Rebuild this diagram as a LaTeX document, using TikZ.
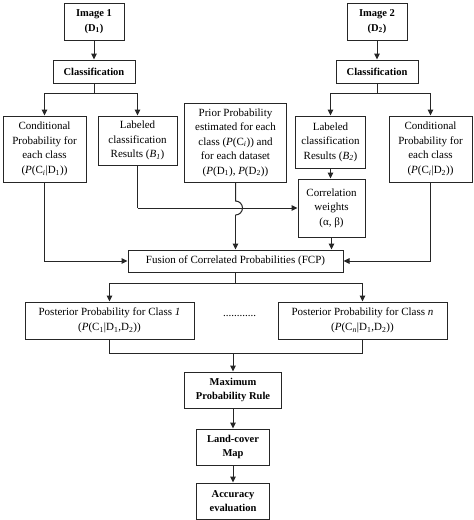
\documentclass[tikz,border=0pt]{standalone}
\usepackage{fontspec}
\setmainfont{Liberation Serif}
\usetikzlibrary{arrows.meta}
\begin{document}
\begin{tikzpicture}[x=1pt,y=-1pt,
  box/.style={draw=black!85, line width=1pt, inner sep=0pt, align=center,
    font=\fontsize{11}{14.5}\selectfont},
  bbox/.style={box, font=\fontsize{10.5}{14.5}\selectfont\bfseries},
  line/.style={draw=black!85, line width=1pt},
  arr/.style={line, -{Triangle[length=6pt,width=5.5pt]}}]
\useasboundingbox[fill=white] (0,0) rectangle (474,520);
% top row
\node[bbox, minimum width=60pt, minimum height=37pt] (img1) at (94,21.5) {Image 1\\(D\textsubscript{1})};
\node[bbox, minimum width=82pt, minimum height=23pt] (cls1) at (94,71.5) {Classification};
\node[bbox, minimum width=60pt, minimum height=37pt] (img2) at (377,21.5) {Image 2\\(D\textsubscript{2})};
\node[bbox, minimum width=82pt, minimum height=23pt] (cls2) at (377,71.5) {Classification};
% second row
\node[box, minimum width=83pt, minimum height=66pt] (cond1) at (44.5,149) {Conditional\\Probability for\\each class\\(\textit{P}(C\textsubscript{\textit{i}}|D\textsubscript{1}))};
\node[box, minimum width=79pt, minimum height=49pt] (lab1) at (137.5,140.5) {Labeled\\classification\\Results (\textit{B\textsubscript{1}})};
\node[box, minimum width=102pt, minimum height=79pt] (prior) at (235.5,142.5) {Prior Probability\\estimated for each\\class (\textit{P}(C\textsubscript{\textit{i}})) and\\for each dataset\\(\textit{P}(D\textsubscript{1}), \textit{P}(D\textsubscript{2}))};
\node[box, minimum width=70pt, minimum height=52pt] (lab2) at (330.5,142) {Labeled\\classification\\Results (\textit{B\textsubscript{2}})};
\node[box, minimum width=83pt, minimum height=66pt] (cond2) at (430.5,149) {Conditional\\Probability for\\each class\\(\textit{P}(C\textsubscript{\textit{i}}|D\textsubscript{2}))};
\node[box, minimum width=67pt, minimum height=58pt] (corr) at (331.5,208) {Correlation\\weights\\(α, β)};
% fusion
\node[box, minimum width=215pt, minimum height=22pt] (fcp) at (235.5,261) {Fusion of Correlated Probabilities (FCP)};
% posteriors
\node[box, minimum width=169pt, minimum height=37pt] (post1) at (109.5,320.5) {Posterior Probability for Class \textit{1}\\(\textit{P}(C\textsubscript{1}|D\textsubscript{1},D\textsubscript{2}))};
\node[box, minimum width=169pt, minimum height=37pt] (postn) at (362.5,320.5) {Posterior Probability for Class \textit{n}\\(\textit{P}(C\textsubscript{\textit{n}}|D\textsubscript{1},D\textsubscript{2}))};
\node[font=\fontsize{11}{14}\selectfont, inner sep=0pt] (dots) at (239.5,316) {............};
% bottom chain
\node[bbox, minimum width=97pt, minimum height=36pt] (max) at (233,390) {Maximum\\Probability Rule};
\node[bbox, minimum width=73pt, minimum height=36pt] (land) at (233,447) {Land-cover\\Map};
\node[bbox, minimum width=73pt, minimum height=36pt] (acc) at (233,501) {Accuracy\\evaluation};
% coordinates
\coordinate (s1) at (94,93);
\coordinate (s2) at (377,93);
\coordinate (h) at (137.5,208);
\coordinate (hopa) at (235.5,201);
\coordinate (hopb) at (235.5,215);
\coordinate (s3) at (235.5,283);
\coordinate (mj) at (233,353);
% connectors
\draw[arr] (img1) -- (cls1);
\draw[arr] (img2) -- (cls2);
\draw[line] (cls1.south) -- (s1);
\draw[arr] (s1) -| (cond1.north);
\draw[arr] (s1) -| (lab1.north);
\draw[line] (cls2.south) -- (s2);
\draw[arr] (s2) -| (lab2.north);
\draw[arr] (s2) -| (cond2.north);
\draw[line] (lab1.south) -- (h);
\draw[arr] (h) -- (corr.west |- h);
\draw[line] (prior.south) -- (hopa) arc[start angle=90, end angle=-90, radius=7pt];
\draw[arr] (hopb) -- (fcp.north);
\draw[arr] (lab2.south) -- (lab2.south |- corr.north);
\draw[arr] (corr.south) -- (corr.south |- fcp.north);
\draw[arr] (cond1.south) |- (fcp.west);
\draw[arr] (cond2.south) |- (fcp.east);
\draw[line] (fcp.south) -- (s3);
\draw[arr] (s3) -| (post1.north);
\draw[arr] (s3) -| (postn.north);
\draw[line] (post1.south) |- (mj);
\draw[line] (postn.south) |- (mj);
\draw[arr] (mj) -- (max.north);
\draw[arr] (max) -- (land);
\draw[arr] (land) -- (acc);
\end{tikzpicture}
\end{document}
